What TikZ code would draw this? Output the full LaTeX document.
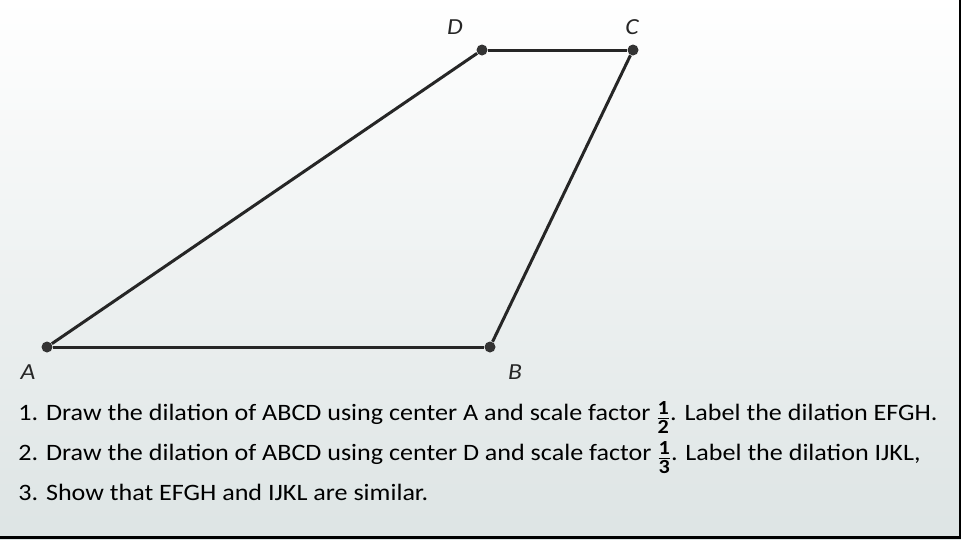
\documentclass[tikz,border=0pt]{standalone}
\usepackage{fontspec}
\setmainfont[FakeStretch=1.11]{Carlito}
\usepackage{amsmath}
\usetikzlibrary{positioning}

\newcommand{\halfof}[2]{\raisebox{-4.5pt}{\ensuremath{\genfrac{}{}{0.9pt}{}{\mbox{\fontsize{20}{20}\selectfont\bfseries #1}}{\mbox{\fontsize{20}{20}\selectfont\bfseries #2}}}}}

\begin{document}
\begin{tikzpicture}[x=1pt,y=-1pt,thick,
                    vertex/.style={circle,fill=black!80,inner sep=0pt,minimum size=11pt},
                    side/.style={line width=3pt,draw=black!85},
                    letter/.style={font=\fontsize{23}{23}\selectfont\itshape,text=black!85},
                    task/.style={anchor=base west,inner sep=0pt,font=\fontsize{23.5}{24}\selectfont,text=black}]

  % paper
  \shade[top color=white,bottom color={rgb,255:red,221;green,228;blue,228}] (0,0) rectangle (961,539);
  \useasboundingbox (0,0) rectangle (961,539);
  \fill[black] (0,536) rectangle (961,539);
  \fill[black] (959,0) rectangle (961,539);

  \node[vertex] (A) at (47,347) {};
  \node[vertex] (B) at (490,347) {};
  \node[vertex] (C) at (633,50) {};
  \node[vertex] (D) at (482,50) {};

  \path[side]
    (A) edge (B)
    (B) edge (C)
    (C) edge (D)
    (D) edge (A);

  \node[letter] at (28,372) {A};
  \node[letter] at (515,372) {B};
  \node[letter] at (632,27) {C};
  \node[letter] at (455,27) {D};

  \node[task] (line1) at (18,420) {1. Draw the dilation of ABCD using center A and scale factor \halfof{1}{2}. Label the dilation EFGH.};
  \node[task] (line2) at (18,460) {2. Draw the dilation of ABCD using center D and scale factor \halfof{1}{3}. Label the dilation IJKL,};
  \node[task] (line3) at (18,500) {3. Show that EFGH and IJKL are similar.};
\end{tikzpicture}
\end{document}
